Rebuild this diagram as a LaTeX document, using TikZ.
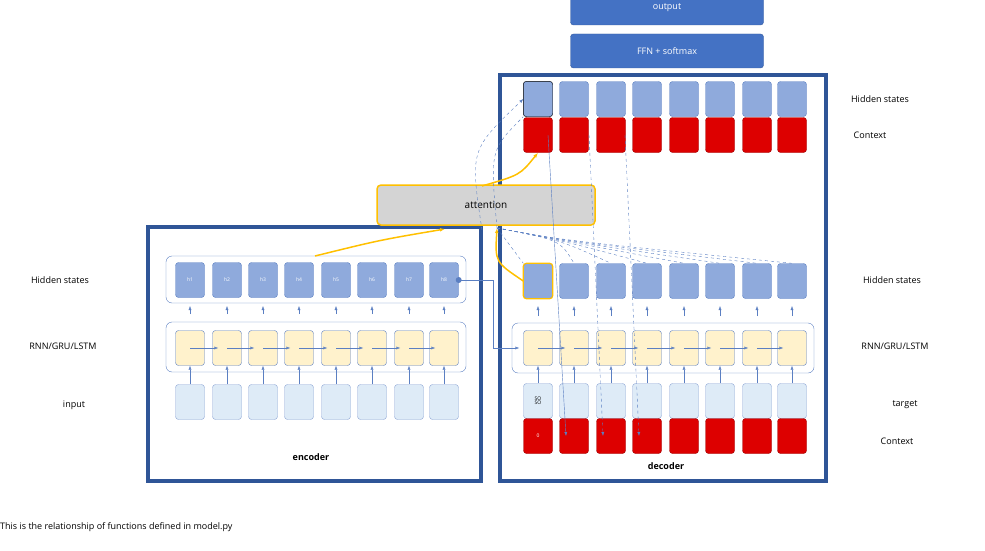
\documentclass[tikz,border=0pt]{standalone}
\usepackage{fontspec}
\setmainfont{Open Sans}
\usetikzlibrary{arrows.meta}
\definecolor{navy}{HTML}{2F5597}
\definecolor{hblue}{HTML}{8FAADC}
\definecolor{hedge}{HTML}{5B7FC2}
\definecolor{ylw}{HTML}{FFF2CC}
\definecolor{inp}{HTML}{DEEBF7}
\definecolor{ctx}{HTML}{DD0000}
\definecolor{gold}{HTML}{FFC000}
\definecolor{btn}{HTML}{4472C4}
\begin{document}
\begin{tikzpicture}[x=1pt,y=-1pt,
  cell/.style={draw=hedge,rounded corners=3pt,minimum width=29pt,minimum height=35pt,inner sep=0pt},
  hid/.style={cell,fill=hblue,text=white,font=\tiny},
  rnn/.style={cell,fill=ylw},
  inb/.style={cell,fill=inp,draw=hedge!70},
  ctxc/.style={cell,fill=ctx,draw=ctx!70!black,text=white,font=\tiny},
  group/.style={draw=hedge,rounded corners=6pt},
  frame/.style={draw=navy,line width=3.5pt},
  up/.style={-{Latex[length=4pt]},hedge,thin},
  dsh/.style={hedge,dashed,thin},
  lab/.style={font=\small},
  btnn/.style={fill=btn,draw=btn!80!black,rounded corners=3pt,text=white,font=\small,minimum width=193pt,minimum height=34pt}]
\useasboundingbox (0,0) rectangle (985,551);
% frames
\draw[frame] (148,227) rectangle (481,481);
\draw[frame] (500,75) rectangle (826,481);
\draw[group] (166,256) rectangle (466,303);
\draw[group] (166,322) rectangle (466,372);
\draw[group] (512,323) rectangle (814,373);
% output buttons
\node[btnn] (out) at (667,8) {output};
\node[btnn] (ffn) at (667,51) {FFN + softmax};
% attention
\node[draw=gold,fill=black!17,line width=1.5pt,rounded corners=4pt,minimum width=218pt,minimum height=40pt] (att) at (486,205) {attention};
% encoder cells
\foreach \x [count=\i] in {190,227,263,299,336,372,409,444}{
  \node[hid] (eh\i) at (\x,280) {h\i};
  \node[rnn] (er\i) at (\x,348) {};
  \node[inb] (ei\i) at (\x,402) {};
  \draw[up] (ei\i.north) -- (er\i.south);
  \draw[up] (\x,314) -- (\x,306);
}
\foreach \i [evaluate=\i as \j using int(\i+1)] in {1,...,7}{
  \draw[up] (er\i.center) -- ([xshift=6pt]er\j.west);
}
% decoder cells
\foreach \x [count=\i] in {538,574,611,647,684,720,757,792}{
  \node[hid] (th\i) at (\x,99) {};
  \node[ctxc] (tc\i) at (\x,135) {};
  \node[hid] (dh\i) at (\x,281) {};
  \node[rnn] (dr\i) at (\x,348) {};
  \node[inb] (di\i) at (\x,401) {};
  \node[ctxc] (dc\i) at (\x,436) {};
  \draw[up] (di\i.north) -- (dr\i.south);
  \draw[up] (\x,316) -- (\x,306);
}
\node[font=\tiny,align=center,inner sep=0pt] at (di1) {SO\\[-2pt]SO};
\node[text=white,font=\tiny] at (dc1) {0};
\draw[black,rounded corners=3pt] (th1.south west) rectangle (th1.north east);
\draw[gold,line width=1.2pt,rounded corners=3pt] (dh1.south west) rectangle (dh1.north east);
\foreach \i [evaluate=\i as \j using int(\i+1)] in {1,...,7}{
  \draw[up] (dr\i.center) -- ([xshift=6pt]dr\j.west);
}
% encoder to decoder
\fill[hedge] (eh8.east) circle (3pt);
\coordinate (c1) at (493,280);
\coordinate (c2) at (493,348);
\draw[up] (eh8.east) -- (c1) -- (c2) -- ([xshift=-4pt]dr1.west);
% attention links
\coordinate (ae) at (315,256);
\coordinate (ab) at (497,228);
\draw[gold,line width=1.5pt,-{Latex[length=5pt]}] (ae) .. controls (380,240) .. (445,229);
\draw[gold,line width=1.5pt,-{Latex[length=5pt]}] (dh1.west) .. controls (495,262) .. (ab);
\draw[gold,line width=1.5pt,-{Latex[length=5pt]}] (482,186) .. controls (520,175) .. (tc1.south);
\foreach \i in {2,...,8}{\draw[dsh] (ab) .. controls (560,240) .. (dh\i.north);}
\draw[dsh] (ab) -- (dh1.north west);
\draw[dsh,-{Latex[length=4pt]}] (482,230) .. controls (470,150) .. (th1.west);
\draw[dsh] (ab) .. controls (490,150) .. (th1.south west);
% context feedback
\draw[up] ([xshift=10pt]tc1.center) -- ([xshift=-8pt]dc2.center);
\draw[dsh,-{Latex[length=4pt]}] ([xshift=15pt]tc2.center) -- ([xshift=-8pt]dc3.center);
\draw[dsh,-{Latex[length=4pt]}] ([xshift=14pt]tc3.center) -- ([xshift=-8pt]dc4.center);
% labels
\node[lab] at (60,280) {Hidden states};
\node[lab] at (63,346) {RNN/GRU/LSTM};
\node[lab] at (74,405) {input};
\node[lab,font=\small\bfseries] at (311,457) {encoder};
\node[lab,font=\small\bfseries] at (666,466) {decoder};
\node[lab] at (880,99) {Hidden states};
\node[lab] at (870,135) {Context};
\node[lab] at (892,280) {Hidden states};
\node[lab] at (895,346) {RNN/GRU/LSTM};
\node[lab] at (905,405) {target};
\node[lab] at (897,441) {Context};
\node[lab,anchor=west,inner sep=0pt] at (0,527) {This is the relationship of functions defined in model.py};
\end{tikzpicture}
\end{document}
